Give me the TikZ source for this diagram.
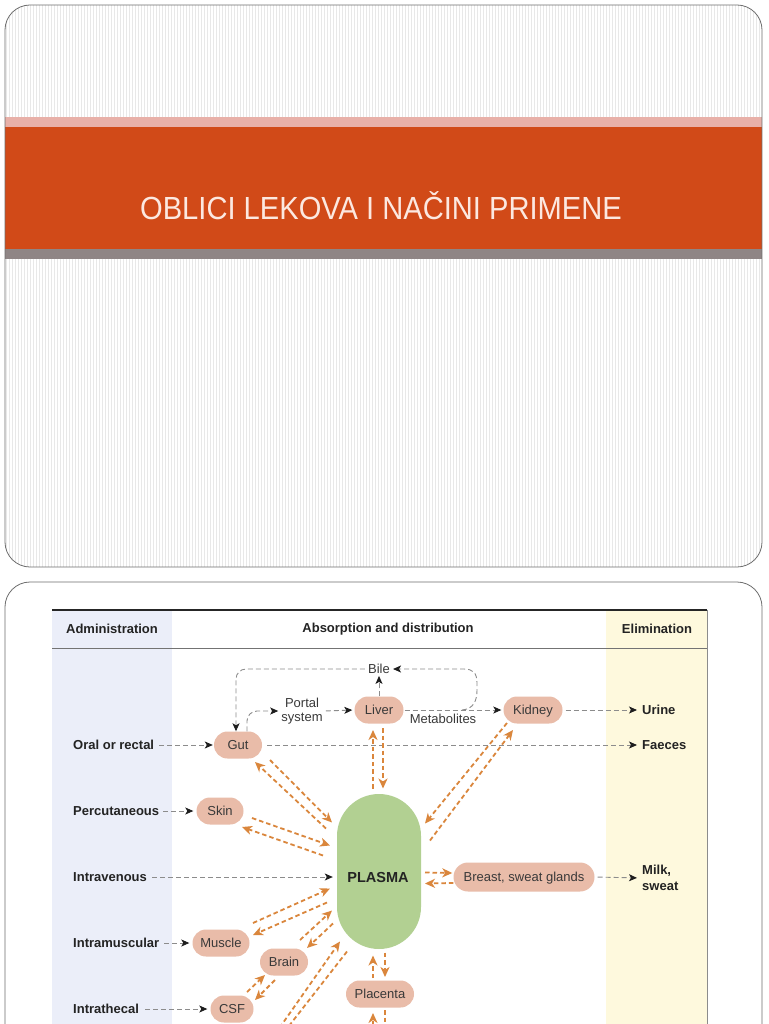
\documentclass[tikz,border=0pt]{standalone}
\usepackage{fontspec}
\setmainfont{Liberation Sans}
\usetikzlibrary{arrows.meta,calc}
\definecolor{stripec}{RGB}{232,232,232}
\definecolor{pinkband}{RGB}{232,176,168}
\definecolor{orangeband}{RGB}{209,74,24}
\definecolor{grayband}{RGB}{143,133,133}
\definecolor{titlec}{RGB}{252,232,224}
\definecolor{slideb}{RGB}{110,110,110}
\definecolor{adminc}{RGB}{235,238,249}
\definecolor{elimc}{RGB}{254,249,221}
\definecolor{pillc}{RGB}{233,188,169}
\definecolor{plasmac}{RGB}{178,208,146}
\definecolor{glinec}{RGB}{140,140,140}
\definecolor{tipc}{RGB}{30,30,30}
\definecolor{olinec}{RGB}{218,134,60}
\definecolor{txtc}{RGB}{35,35,35}
\begin{document}
\begin{tikzpicture}[x=1pt,y=-1pt,
  lbl/.style={font=\bfseries\fontsize{13}{15}\selectfont, text=txtc, inner sep=0pt, text height=9.4pt, text depth=0pt},
  hdr/.style={font=\bfseries\fontsize{13}{15}\selectfont, text=txtc, inner sep=0pt},
  plain/.style={font=\fontsize{13}{15}\selectfont, text=txtc!90, inner sep=1pt, text height=9.4pt, text depth=0pt},
  pill/.style={fill=pillc, rounded corners=13.5pt, minimum height=27pt, inner sep=0pt,
    font=\fontsize{13}{15}\selectfont, text=txtc!90, text height=9.4pt, text depth=0pt},
  garr/.style={draw=glinec, line width=0.9pt, dash pattern=on 5pt off 3pt,
    -{Stealth[length=8pt,width=7pt,inset=2pt,color=tipc]}},
  oarr/.style={draw=olinec, line width=1.8pt, dash pattern=on 4.5pt off 3pt,
    -{Stealth[length=10pt,width=9pt,inset=3pt]}}
]
\useasboundingbox (0,0) rectangle (768,1024);
\fill[white] (0,0) rectangle (768,1024);

% ---------- slide 1 ----------
\begin{scope}
  \clip[rounded corners=25pt] (5,5) rectangle (762,567);
  \fill[white] (5,5) rectangle (762,567);
  \foreach \x in {6,9,...,762} \draw[stripec, line width=1pt] (\x,5) -- (\x,567);
  \fill[pinkband] (5,117) rectangle (762,127);
  \fill[orangeband] (5,127) rectangle (762,249);
  \fill[grayband] (5,249) rectangle (762,259);
\end{scope}
\draw[slideb, line width=0.8pt, rounded corners=25pt] (5,5) rectangle (762,567);
\node[text=titlec, font=\fontsize{32}{36}\selectfont, inner sep=0pt] (title) at (381,206)
  {\scalebox{0.91}[1]{OBLICI LEKOVA I NAČINI PRIMENE}};

% ---------- slide 2 ----------
\draw[slideb, fill=white, line width=0.8pt, rounded corners=25pt] (5,582) rectangle (762,1110);
\fill[adminc] (52,610) rectangle (172,1040);
\fill[elimc] (605.7,610) rectangle (707,1040);
\draw[black!85, line width=1.6pt] (52,610) -- (707,610);
\draw[black!55, line width=0.9pt] (52,648) -- (707,648);
\draw[black!45, line width=0.8pt] (707,610) -- (707,1040);

\node[hdr] (hadm) at (112,629) {Administration};
\node[hdr] (habs) at (388,629) {Absorption and distribution};
\node[hdr] (helim) at (657,629) {Elimination};

% administration labels
\node[lbl, anchor=west] (oral) at (73,745) {Oral or rectal};
\node[lbl, anchor=west] (perc) at (73,811) {Percutaneous};
\node[lbl, anchor=west] (iv) at (73,877) {Intravenous};
\node[lbl, anchor=west] (im) at (73,943) {Intramuscular};
\node[lbl, anchor=west] (ith) at (73,1009) {Intrathecal};

% elimination labels
\node[lbl, anchor=west] (urine) at (642,710) {Urine};
\node[lbl, anchor=west] (faeces) at (642,745) {Faeces};
\node[font=\bfseries\fontsize{13}{16}\selectfont, text=txtc, inner sep=0pt, align=left, anchor=west] (milk) at (642,878) {Milk,\\sweat};

% organ nodes
\node[pill, minimum width=48pt] (gut) at (238,745) {Gut};
\node[pill, minimum width=49pt] (liver) at (379,710) {Liver};
\node[pill, minimum width=59pt] (kidney) at (533,710) {Kidney};
\node[pill, minimum width=47pt] (skin) at (220,811) {Skin};
\node[pill, minimum width=57pt] (muscle) at (221,943) {Muscle};
\node[pill, minimum width=48pt] (brain) at (284,962) {Brain};
\node[pill, minimum width=43pt] (csf) at (232,1009) {CSF};
\node[pill, minimum width=68pt] (placenta) at (380,994) {Placenta};
\node[pill, minimum width=141pt, minimum height=29pt, rounded corners=14.5pt] (breast) at (524,877) {Breast, sweat glands};
\node[fill=plasmac, rounded corners=42pt, minimum width=84pt, minimum height=155pt, inner sep=0pt] (plasma) at (379,871.5) {};
\node[font=\bfseries\fontsize{14.5}{16}\selectfont, text=txtc, inner sep=0pt] (plasmalbl) at (378,877) {PLASMA};

\node[plain] (bile) at (379,669) {Bile};
\node[font=\fontsize{13}{14.5}\selectfont, text=txtc!90, inner sep=1pt, align=center] (portal) at (302,711) {Portal\\system};
\node[plain] (metab) at (443,719) {Metabolites};

% gray connectors
\draw[garr, shorten <=5pt, shorten >=1pt] (oral.east) -- (gut.west);
\draw[garr, shorten <=5pt, shorten >=5pt] (gut.east) -- (faeces.west);
\draw[garr, rounded corners=10pt] ([xshift=9pt]gut.north) |- ([xshift=-2pt]portal.west);
\draw[garr, shorten <=2pt, shorten >=2pt] (portal.east) -- (liver.west);
\draw[garr, shorten >=1pt] (liver.north) -- (bile.south);
\draw[garr, rounded corners=10pt, shorten <=2pt] (bile.west) -| ([xshift=-2pt]gut.north);
\draw[garr, shorten <=1pt, shorten >=2pt] (liver.east) -- (kidney.west);
\coordinate (metA) at (462,710);
\draw[garr, shorten >=2pt] (metA) .. controls (474,709) and (477,700) .. (477,690) -- (477,683)
   .. controls (477,673) and (473,669) .. (464,669) -- (bile.east);
\draw[garr, shorten <=3pt, shorten >=5pt] (kidney.east) -- (urine.west);
\draw[garr, shorten <=3pt, shorten >=5pt] (breast.east) -- (milk.west);
\draw[garr, shorten <=5pt, shorten >=4pt] (iv.east) -- (plasma.west |- iv.east);
\draw[garr, shorten <=4pt, shorten >=3pt] (perc.east) -- (skin.west);
\draw[garr, shorten <=5pt, shorten >=3pt] (im.east) -- (muscle.west);
\draw[garr, shorten <=6pt, shorten >=3pt] (ith.east) -- (csf.west);

% orange exchange arrows
\draw[oarr] ([shift={(32,15)}]gut.center) -- ([shift={(-47,-49)}]plasma.center);
\draw[oarr] ([shift={(-53,-43)}]plasma.center) -- ([shift={(17,17)}]gut.center);

\draw[oarr] ([shift={(32,7)}]skin.center) -- ([shift={(-49,-26)}]plasma.center);
\draw[oarr] ([shift={(-56,-16)}]plasma.center) -- ([shift={(22,16)}]skin.center);

\draw[oarr] ([shift={(32,-20)}]muscle.center) -- ([shift={(-49,17)}]plasma.center);
\draw[oarr] ([shift={(-52,31)}]plasma.center) -- ([shift={(32,-8)}]muscle.center);

\draw[oarr] ([shift={(16,-22)}]brain.center) -- ([shift={(-47,39)}]plasma.center);
\draw[oarr] ([shift={(-46,52)}]plasma.center) -- ([shift={(23,-14)}]brain.center);

\draw[oarr] ([shift={(15,-17)}]csf.center) -- ([shift={(-19,13)}]brain.center);
\draw[oarr] ([shift={(-9,18)}]brain.center) -- ([shift={(23,-9)}]csf.center);

\coordinate (lowA) at (271,1040);
\coordinate (lowB) at (278,1040);
\draw[oarr] (lowA) -- ([shift={(-39,70)}]plasma.center);
\draw[oarr] ([shift={(-32,80)}]plasma.center) -- (lowB);

\draw[oarr] ([shift={(-6,-83)}]plasma.center) -- ([shift={(-6,20)}]liver.center);
\draw[oarr] ([shift={(4,18)}]liver.center) -- ([shift={(4,-83)}]plasma.center);

\draw[oarr] ([shift={(-26,13)}]kidney.center) -- ([shift={(46,-48)}]plasma.center);
\draw[oarr] ([shift={(51,-31)}]plasma.center) -- ([shift={(-20,20)}]kidney.center);

\draw[oarr] ([shift={(46,1)}]plasma.center) -- ([shift={(-1,-4)}]breast.west);
\draw[oarr] ([shift={(0,6)}]breast.west) -- ([shift={(46,12)}]plasma.center);

\draw[oarr] ([shift={(-7,-16)}]placenta.center) -- ([shift={(-6,84)}]plasma.center);
\draw[oarr] ([shift={(6,81)}]plasma.center) -- ([shift={(5,-17)}]placenta.center);

\coordinate (lowC) at (373,1040);
\coordinate (lowD) at (385,1045);
\draw[oarr] (lowC) -- ([shift={(-7,19)}]placenta.center);
\draw[oarr] ([shift={(5,16)}]placenta.center) -- (lowD);
\end{tikzpicture}
\end{document}
